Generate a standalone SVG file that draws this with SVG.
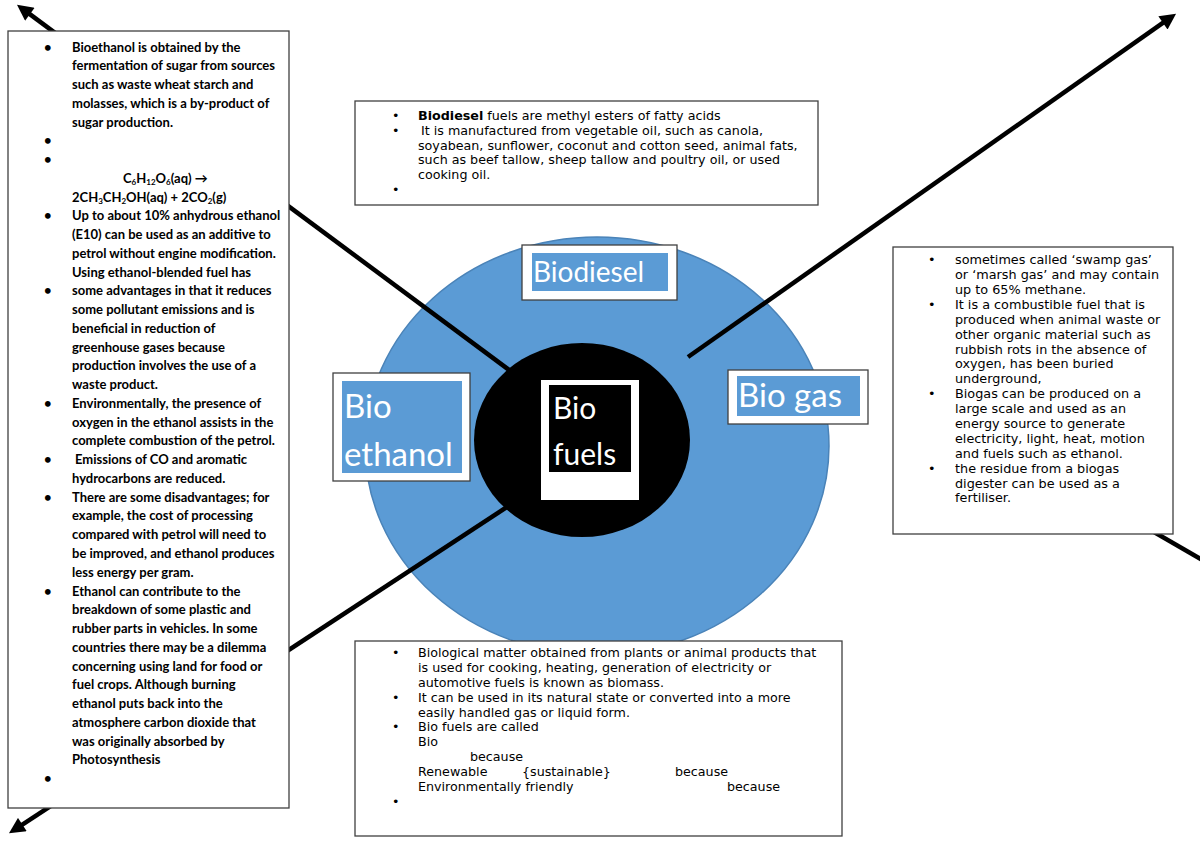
<svg xmlns="http://www.w3.org/2000/svg" width="1200" height="848" viewBox="0 0 1200 848">
<style>
.bg{fill:#fff}
.box{fill:#fff;stroke:#404040;stroke-width:1.3}
.inner{fill:#5b9bd5}
.conn{stroke:#000;stroke-width:4.5;fill:none}
.lbl{font-family:Lato,"Liberation Sans",sans-serif;fill:#fff}
.lt{font-family:Lato,"Liberation Sans",sans-serif;font-weight:bold;font-size:13px;fill:#000}
.bt{font-family:"DejaVu Sans","Liberation Sans",sans-serif;font-size:12.7px;fill:#000}
.rt{font-family:"DejaVu Sans","Liberation Sans",sans-serif;font-size:12.8px;fill:#000}
</style>
<defs>
<marker id="ah" viewBox="0 0 10 10" markerUnits="userSpaceOnUse" markerWidth="18" markerHeight="16" refX="4" refY="5" orient="auto">
<path d="M0,0 L10,5 L0,10 z" fill="#000"/>
</marker>
</defs>
<rect class="bg" x="0" y="0" width="1200" height="848"/>
<g id="ring">
<ellipse cx="597" cy="446" rx="232" ry="209" fill="#5b9bd5" stroke="#4a83b8" stroke-width="1.5"/>
</g>
<g id="connectors">
<line class="conn" x1="520" y1="378" x2="24.7" y2="10.4" marker-end="url(#ah)"/>
<line class="conn" x1="688" y1="357" x2="1168.2" y2="19.2" marker-end="url(#ah)"/>
<line class="conn" x1="510" y1="505" x2="17" y2="828.1" marker-end="url(#ah)"/>
<line class="conn" x1="1000" y1="443" x2="1230" y2="576"/>
</g>
<g id="core">
<ellipse cx="582" cy="440" rx="108" ry="97" fill="#000"/>
<rect x="541" y="380" width="98" height="120" fill="#fff"/>
<rect x="549" y="385" width="82" height="87" fill="#000"/>
<text class="lbl" font-size="30" x="553" y="419">Bio</text>
<text class="lbl" font-size="30" x="553" y="465">fuels</text>
</g>
<g id="label-biodiesel">
<rect class="box" x="522" y="245" width="155" height="55"/>
<rect class="inner" x="532" y="253" width="136" height="38"/>
<text class="lbl" font-size="28" x="533" y="282">Biodiesel</text>
</g>
<g id="label-bioethanol">
<rect class="box" x="333" y="373" width="137" height="108"/>
<rect class="inner" x="342" y="381" width="120" height="92"/>
<text class="lbl" font-size="33" x="344" y="418">Bio</text>
<text class="lbl" font-size="33" x="344" y="466">ethanol</text>
</g>
<g id="label-biogas">
<rect class="box" x="728" y="370" width="140" height="54"/>
<rect class="inner" x="737" y="376" width="123" height="40"/>
<text class="lbl" font-size="33" x="738" y="407">Bio gas</text>
</g>
<g id="box-bioethanol">
<rect class="box" x="8" y="31" width="281" height="777"/>
<g class="lt">
<text x="44" y="51.5">•</text>
<text x="72" y="51.5">Bioethanol is obtained by the</text>
<text x="72" y="70.3">fermentation of sugar from sources</text>
<text x="72" y="89">such as waste wheat starch and</text>
<text x="72" y="107.8">molasses, which is a by-product of</text>
<text x="72" y="126.5">sugar production.</text>
<text x="44" y="145.3">•</text>
<text x="44" y="164">•</text>
<text x="123" y="182.8">C<tspan font-size="8" dy="2">6</tspan><tspan dy="-2">H</tspan><tspan font-size="8" dy="2">12</tspan><tspan dy="-2">O</tspan><tspan font-size="8" dy="2">6</tspan><tspan dy="-2">(aq) →</tspan></text>
<text x="72" y="201.5">2CH<tspan font-size="8" dy="2">3</tspan><tspan dy="-2">CH</tspan><tspan font-size="8" dy="2">2</tspan><tspan dy="-2">OH(aq) + 2CO</tspan><tspan font-size="8" dy="2">2</tspan><tspan dy="-2">(g)</tspan></text>
<text x="44" y="220.3">•</text>
<text x="72" y="220.3">Up to about 10% anhydrous ethanol</text>
<text x="72" y="239.1">(E10) can be used as an additive to</text>
<text x="72" y="257.8">petrol without engine modification.</text>
<text x="72" y="276.6">Using ethanol-blended fuel has</text>
<text x="44" y="295.3">•</text>
<text x="72" y="295.3">some advantages in that it reduces</text>
<text x="72" y="314.1">some pollutant emissions and is</text>
<text x="72" y="332.8">beneficial in reduction of</text>
<text x="72" y="351.6">greenhouse gases because</text>
<text x="72" y="370.4">production involves the use of a</text>
<text x="72" y="389.1">waste product.</text>
<text x="44" y="407.9">•</text>
<text x="72" y="407.9">Environmentally, the presence of</text>
<text x="72" y="426.6">oxygen in the ethanol assists in the</text>
<text x="72" y="445.4">complete combustion of the petrol.</text>
<text x="44" y="464.2">•</text>
<text x="75" y="464.2">Emissions of CO and aromatic</text>
<text x="72" y="482.9">hydrocarbons are reduced.</text>
<text x="44" y="501.7">•</text>
<text x="72" y="501.7">There are some disadvantages; for</text>
<text x="72" y="520.4">example, the cost of processing</text>
<text x="72" y="539.2">compared with petrol will need to</text>
<text x="72" y="557.9">be improved, and ethanol produces</text>
<text x="72" y="576.7">less energy per gram.</text>
<text x="44" y="595.5">•</text>
<text x="72" y="595.5">Ethanol can contribute to the</text>
<text x="72" y="614.2">breakdown of some plastic and</text>
<text x="72" y="633">rubber parts in vehicles. In some</text>
<text x="72" y="651.7">countries there may be a dilemma</text>
<text x="72" y="670.5">concerning using land for food or</text>
<text x="72" y="689.2">fuel crops. Although burning</text>
<text x="72" y="708">ethanol puts back into the</text>
<text x="72" y="726.8">atmosphere carbon dioxide that</text>
<text x="72" y="745.5">was originally absorbed by</text>
<text x="72" y="764.3">Photosynthesis</text>
<text x="44" y="783">•</text>
</g>
</g>
<g id="box-biodiesel">
<rect class="box" x="355" y="101" width="463" height="104"/>
<g class="bt">
<text x="392" y="120">•</text>
<text x="418" y="120"><tspan font-weight="bold">Biodiesel</tspan> fuels are methyl esters of fatty acids</text>
<text x="392" y="135">•</text>
<text x="421" y="135">It is manufactured from vegetable oil, such as canola,</text>
<text x="418" y="150">soyabean, sunflower, coconut and cotton seed, animal fats,</text>
<text x="418" y="164">such as beef tallow, sheep tallow and poultry oil, or used</text>
<text x="418" y="179">cooking oil.</text>
<text x="392" y="194">•</text>
</g>
</g>
<g id="box-biogas">
<rect class="box" x="893" y="247" width="280" height="287"/>
<g class="rt">
<text x="928" y="264">•</text>
<text x="955" y="264">sometimes called ‘swamp gas’</text>
<text x="955" y="279">or ‘marsh gas’ and may contain</text>
<text x="955" y="294">up to 65% methane.</text>
<text x="928" y="309">•</text>
<text x="955" y="309">It is a combustible fuel that is</text>
<text x="955" y="324">produced when animal waste or</text>
<text x="955" y="339">other organic material such as</text>
<text x="955" y="354">rubbish rots in the absence of</text>
<text x="955" y="368">oxygen, has been buried</text>
<text x="955" y="383">underground,</text>
<text x="928" y="398">•</text>
<text x="955" y="398">Biogas can be produced on a</text>
<text x="955" y="413">large scale and used as an</text>
<text x="955" y="428">energy source to generate</text>
<text x="955" y="443">electricity, light, heat, motion</text>
<text x="955" y="458">and fuels such as ethanol.</text>
<text x="928" y="473">•</text>
<text x="955" y="473">the residue from a biogas</text>
<text x="955" y="488">digester can be used as a</text>
<text x="955" y="502">fertiliser.</text>
</g>
</g>
<g id="box-biomass">
<rect class="box" x="355" y="641" width="487" height="195"/>
<g class="bt">
<text x="392" y="657">•</text>
<text x="418" y="657">Biological matter obtained from plants or animal products that</text>
<text x="418" y="672">is used for cooking, heating, generation of electricity or</text>
<text x="418" y="687">automotive fuels is known as biomass.</text>
<text x="392" y="702">•</text>
<text x="418" y="702">It can be used in its natural state or converted into a more</text>
<text x="418" y="717">easily handled gas or liquid form.</text>
<text x="392" y="731">•</text>
<text x="418" y="731">Bio fuels are called</text>
<text x="418" y="746">Bio</text>
<text x="470" y="761">because</text>
<text x="418" y="776">Renewable</text>
<text x="522" y="776">{sustainable}</text>
<text x="675" y="776">because</text>
<text x="418" y="791">Environmentally friendly</text>
<text x="727" y="791">because</text>
<text x="392" y="806">•</text>
</g>
</g>
</svg>
